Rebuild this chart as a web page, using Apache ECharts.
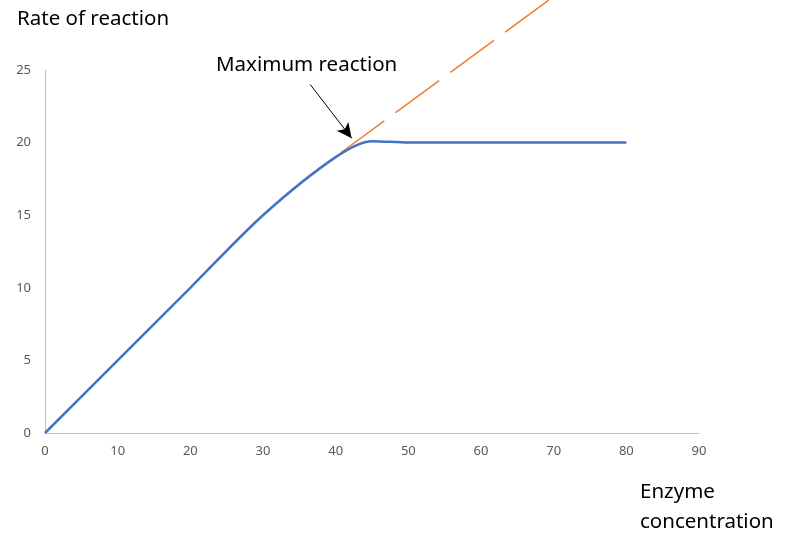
<!DOCTYPE html>
<html>
<head>
<meta charset="utf-8">
<script src="https://cdn.jsdelivr.net/npm/echarts@6/dist/echarts.min.js"></script>
<style>html,body{margin:0;padding:0;background:#fff}#c{width:787px;height:542px}</style>
</head>
<body>
<div id="c"></div>
<script>
var enzyme = [0, 10, 20, 30, 40, 45, 50, 60, 70, 80];
var rate = [0, 5, 10, 15, 19, 20.1, 20, 20, 20, 20];
var trendX = [40.7, 75];
var trendY = [19.3, 31.9];
var arrowFrom = [36.5, 24.0];
var arrowTo = [42.2, 20.3];
var yTicks = [0, 5, 10, 15, 20, 25];
var xTicks = [0, 10, 20, 30, 40, 50, 60, 70, 80, 90];

var chart = echarts.init(document.getElementById('c'));
var font = 'Noto Sans';
chart.setOption({
  animation: false,
  grid: {left: 45, right: 88, top: 70, bottom: 109},
  xAxis: {
    type: 'value', min: 0, max: 90, interval: 10,
    axisLine: {show: true, lineStyle: {color: '#bfbfbf', width: 1}},
    axisTick: {show: false},
    splitLine: {show: false},
    axisLabel: {color: '#595959', fontSize: 13, fontFamily: font, margin: 12}
  },
  yAxis: {
    type: 'value', min: 0, max: 25, interval: 5,
    axisLine: {show: true, lineStyle: {color: '#bfbfbf', width: 1}},
    axisTick: {show: false},
    splitLine: {show: false},
    axisLabel: {color: '#595959', fontSize: 13, fontFamily: font, margin: 14}
  },
  graphic: [
    {type: 'text', left: 17, top: 9, style: {text: 'Rate of reaction', font: '20.5px "Noto Sans"', fill: '#000'}},
    {type: 'text', left: 640, top: 477, style: {text: 'Enzyme\nconcentration', font: '20.5px "Noto Sans"', fill: '#000', lineHeight: 30}},
    {type: 'text', left: 216, top: 55, style: {text: 'Maximum reaction', font: '20.5px "Noto Sans"', fill: '#000'}}
  ],
  series: [
    {
      type: 'line',
      data: trendX.map(function (x, i) { return [x, trendY[i]]; }),
      clip: false,
      symbol: 'none',
      lineStyle: {color: '#ED7D31', width: 1.5, type: [54, 14]},
      z: 1
    },
    {
      type: 'line',
      data: enzyme.map(function (x, i) { return [x, rate[i]]; }),
      smooth: 0.3,
      symbol: 'none',
      lineStyle: {color: '#4472C4', width: 2.5},
      z: 2,
      markLine: {
        silent: true,
        symbol: ['none', 'arrow'],
        symbolSize: [11, 15],
        label: {show: false},
        lineStyle: {color: '#000', width: 1, type: 'solid'},
        data: [[{coord: arrowFrom}, {coord: arrowTo}]]
      }
    }
  ]
});
</script>
</body>
</html>
